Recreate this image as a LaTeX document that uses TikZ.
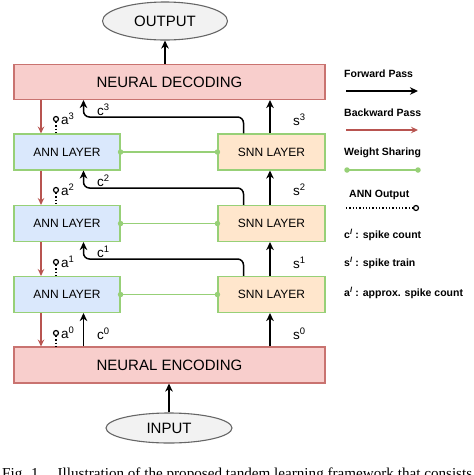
\documentclass[tikz,border=0pt]{standalone}
\usepackage{fontspec}
\setmainfont{Liberation Sans}
\newfontfamily\capfont{Liberation Serif}
\usetikzlibrary{arrows.meta,shapes.geometric,calc}
\definecolor{annfill}{HTML}{DAE8FC}
\definecolor{snnfill}{HTML}{FFE6CC}
\definecolor{boxgreen}{HTML}{97D077}
\definecolor{codfill}{HTML}{F8CECC}
\definecolor{codline}{HTML}{C97370}
\definecolor{bwdred}{HTML}{B85450}
\definecolor{ellfill}{HTML}{F2F2F2}
\definecolor{ellline}{HTML}{666666}
\tikzset{
  tipf/.tip={Stealth[length=8pt,width=7.5pt,inset=2.5pt]},
  annbox/.style={draw=boxgreen,fill=annfill,line width=1.1pt,minimum width=106pt,minimum height=36pt,inner sep=0pt,font=\fontsize{12}{14}\selectfont},
  snnbox/.style={annbox,fill=snnfill,minimum width=107pt},
  codbox/.style={draw=codline,fill=codfill,line width=1.1pt,minimum width=311pt,minimum height=35pt,inner sep=0pt,font=\fontsize{15}{18}\selectfont},
  ioell/.style={ellipse,draw=ellline,fill=ellfill,line width=1.1pt,inner sep=0pt,font=\fontsize{15}{18}\selectfont},
  fwd/.style={line width=1.5pt,-tipf},
  bwd/.style={line width=1.3pt,draw=bwdred,-{Stealth[length=7pt,width=6.5pt,inset=2.5pt]}},
  share/.style={line width=1.3pt,draw=boxgreen},
  sdot/.style={circle,fill=boxgreen,inner sep=0pt,minimum size=5.5pt},
  annout/.style={line width=1.3pt,dotted},
  ocirc/.style={circle,draw=black,fill=white,line width=1.2pt,inner sep=0pt,minimum size=5pt},
  lbl/.style={anchor=west,inner sep=0pt,font=\fontsize{13.5}{15}\selectfont},
  legt/.style={anchor=west,inner sep=0pt,font=\fontsize{10.5}{12}\selectfont\bfseries},
}
\begin{document}
\begin{tikzpicture}[x=1pt,y=-1pt]
\useasboundingbox (0,0) rectangle (474,475);
% main nodes
\node[ioell,minimum width=125pt,minimum height=38pt] (out) at (165,21) {OUTPUT};
\node[codbox] (dec) at (169.5,82) {NEURAL DECODING};
\node[annbox] (ann1) at (67,152) {ANN LAYER};
\node[annbox] (ann2) at (67,223.5) {ANN LAYER};
\node[annbox] (ann3) at (67,294.5) {ANN LAYER};
\node[snnbox] (snn1) at (271.5,152) {SNN LAYER};
\node[snnbox] (snn2) at (271.5,223.5) {SNN LAYER};
\node[snnbox] (snn3) at (271.5,294.5) {SNN LAYER};
\node[codbox,minimum height=36pt] (enc) at (169.5,365) {NEURAL ENCODING};
\node[ioell,minimum width=126pt,minimum height=30pt] (in) at (169,428) {INPUT};
% helper x positions
\coordinate (rx) at (41,0);
\coordinate (cl) at (83.5,0);
\coordinate (cr) at (243.5,0);
\coordinate (sx) at (270,0);
% output / input arrows
\draw[fwd] (dec.north -| out.south) -- (out.south);
\draw[fwd] (in.north) -- (enc.south -| in.north);
% backward pass
\draw[bwd] (dec.south -| rx) -- (ann1.north -| rx);
\draw[bwd] (ann1.south -| rx) -- (ann2.north -| rx);
\draw[bwd] (ann2.south -| rx) -- (ann3.north -| rx);
\draw[bwd] (ann3.south -| rx) -- (enc.north -| rx);
% weight sharing
\foreach \i in {1,2,3}{
  \draw[share] (ann\i.east) -- (snn\i.west);
  \node[sdot] at (ann\i.east) {};
  \node[sdot] at (snn\i.west) {};
}
% ANN outputs
\node[ocirc] (a3) at (56,119) {};
\node[ocirc] (a2) at (56,190) {};
\node[ocirc] (a1) at (56,262) {};
\node[ocirc] (a0) at (56,333) {};
\draw[annout] (a3.south) -- (ann1.north -| a3);
\draw[annout] (a2.south) -- (ann2.north -| a2);
\draw[annout] (a1.south) -- (ann3.north -| a1);
\draw[annout] (a0.south) -- (enc.north -| a0);
\node[lbl] at (61,119) {a\textsuperscript{3}};
\node[lbl] at (61,190) {a\textsuperscript{2}};
\node[lbl] at (61,262) {a\textsuperscript{1}};
\node[lbl] at (61,333) {a\textsuperscript{0}};
% spike counts
\draw[fwd,rounded corners=6pt] (snn1.north -| cr) -- (cr |- 0,117) -- (cl |- 0,117) -- (dec.south -| cl);
\draw[fwd,rounded corners=6pt] (snn2.north -| cr) -- (cr |- 0,188) -- (cl |- 0,188) -- (ann1.south -| cl);
\draw[fwd,rounded corners=6pt] (snn3.north -| cr) -- (cr |- 0,259) -- (cl |- 0,259) -- (ann2.south -| cl);
\draw[fwd] (enc.north -| cl) -- (ann3.south -| cl);
\node[lbl] at (97,110) {c\textsuperscript{3}};
\node[lbl] at (97,181) {c\textsuperscript{2}};
\node[lbl] at (97,252) {c\textsuperscript{1}};
\node[lbl] at (97,334) {c\textsuperscript{0}};
% spike trains
\draw[fwd] (snn1.north -| sx) -- (dec.south -| sx);
\draw[fwd] (snn2.north -| sx) -- (snn1.south -| sx);
\draw[fwd] (snn3.north -| sx) -- (snn2.south -| sx);
\draw[fwd] (enc.north -| sx) -- (snn3.south -| sx);
\node[lbl] at (293,120) {s\textsuperscript{3}};
\node[lbl] at (293,190) {s\textsuperscript{2}};
\node[lbl] at (293,263) {s\textsuperscript{1}};
\node[lbl] at (293,334) {s\textsuperscript{0}};
% legend
\node[legt] (lf) at (344,74) {Forward Pass};
\coordinate (lf1) at (346,91); \coordinate (lf2) at (418,91);
\draw[fwd,line width=1.2pt] (lf1) -- (lf2);
\node[legt] (lb) at (344,113) {Backward Pass};
\coordinate (lb1) at (346,130); \coordinate (lb2) at (418,130);
\draw[bwd] (lb1) -- (lb2);
\node[legt] (lw) at (344,153) {Weight Sharing};
\coordinate (lw1) at (347,170); \coordinate (lw2) at (418,170);
\draw[share] (lw1) -- (lw2);
\node[sdot] at (lw1) {}; \node[sdot] at (lw2) {};
\node[legt] (la) at (349,195) {ANN Output};
\coordinate (la1) at (346,208);
\node[ocirc] (la2) at (416,208) {};
\draw[annout] (la1) -- (la2.west);
\node[legt] at (344,235) {c\textsuperscript{\itshape l} : spike count};
\node[legt] at (344,263) {s\textsuperscript{\itshape l} : spike train};
\node[legt] at (344,293) {a\textsuperscript{\itshape l} : approx. spike count};
% caption (cut at the bottom, as in the reference)
\node[anchor=base west,inner sep=0pt] at (2,478) {\resizebox{470pt}{!}{\capfont\fontsize{14}{16}\selectfont Fig. 1.\quad Illustration of the proposed tandem learning framework that consists}};
\end{tikzpicture}
\end{document}
